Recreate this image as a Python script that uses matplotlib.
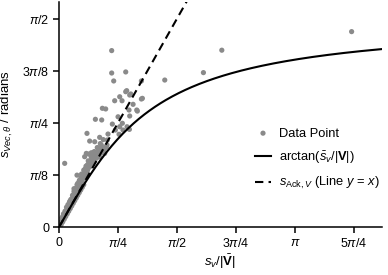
import numpy as np
import matplotlib
matplotlib.use("Agg")
import matplotlib.pyplot as plt

plt.rcParams['font.family'] = ['Liberation Sans', 'DejaVu Sans']
plt.rcParams['mathtext.fontset'] = 'custom'
plt.rcParams['mathtext.rm'] = 'Liberation Sans'
plt.rcParams['mathtext.it'] = 'Liberation Sans:italic'
plt.rcParams['mathtext.bf'] = 'Liberation Sans:bold'

# Data points
pts_x = [0.02, 0.03, 0.04, 0.05, 0.06, 0.07, 0.08, 0.09, 0.10, 0.11, 0.12, 0.13, 0.14, 0.15,
         0.16, 0.17, 0.18, 0.19, 0.20, 0.21, 0.22, 0.23, 0.24, 0.25, 0.26, 0.27, 0.28, 0.29,
         0.30, 0.31, 0.32, 0.33, 0.34, 0.35, 0.36, 0.37, 0.38, 0.39, 0.40, 0.41, 0.42, 0.43,
         0.44, 0.45, 0.46, 0.47, 0.48, 0.50, 0.52, 0.54, 0.55, 0.57, 0.58, 0.60, 0.62, 0.64,
         0.05, 0.10, 0.15, 0.20, 0.25, 0.30, 0.18, 0.28, 0.35, 0.40, 0.12, 0.22, 0.32, 0.38,
         0.01, 0.03, 0.05, 0.07, 0.09, 0.11, 0.13, 0.15, 0.17, 0.19, 0.21, 0.23, 0.25, 0.27,
         0.29, 0.31, 0.33,
         0.04, 0.06, 0.08, 0.10, 0.12, 0.14, 0.16, 0.18, 0.20, 0.22, 0.24, 0.26, 0.28, 0.30,
         0.32, 0.34, 0.36, 0.38, 0.40, 0.42, 0.44, 0.46, 0.48, 0.50, 0.53, 0.56,
         0.20, 0.24, 0.27, 0.30, 0.33, 0.36, 0.39, 0.43, 0.47, 0.51, 0.55, 0.59,
         0.076, 0.24, 0.342, 0.396, 0.364, 0.431, 0.453, 0.542, 0.609, 0.409, 0.476, 0.564,
         0.631, 0.542, 0.644, 0.373, 0.653, 0.80, 0.751, 0.853, 0.809, 0.907, 0.711, 0.844,
         0.485, 0.569, 0.787, 0.942, 0.578, 0.622, 0.933, 1.044, 0.987, 1.111, 0.742, 0.84,
         0.809, 0.889, 0.942, 0.956, 1.098, 0.902, 1.036, 0.938, 0.729, 1.098, 0.702, 0.702,
         0.889, 1.409, 1.924, 2.169, 3.898]
pts_y = [0.02, 0.04, 0.05, 0.05, 0.07, 0.08, 0.09, 0.11, 0.11, 0.13, 0.13, 0.15, 0.16, 0.17,
         0.19, 0.19, 0.21, 0.22, 0.22, 0.24, 0.26, 0.26, 0.28, 0.29, 0.29, 0.31, 0.33, 0.32,
         0.35, 0.35, 0.37, 0.38, 0.38, 0.40, 0.41, 0.42, 0.43, 0.45, 0.45, 0.47, 0.46, 0.49,
         0.48, 0.50, 0.51, 0.50, 0.53, 0.52, 0.55, 0.53, 0.57, 0.56, 0.59, 0.58, 0.60, 0.62,
         0.08, 0.15, 0.20, 0.27, 0.33, 0.38, 0.24, 0.36, 0.44, 0.49, 0.16, 0.29, 0.40, 0.47,
         0.00, 0.02, 0.04, 0.06, 0.08, 0.10, 0.12, 0.14, 0.16, 0.18, 0.20, 0.22, 0.24, 0.26,
         0.28, 0.30, 0.32,
         0.07, 0.10, 0.12, 0.13, 0.17, 0.19, 0.21, 0.22, 0.25, 0.27, 0.30, 0.32, 0.34, 0.36,
         0.39, 0.41, 0.43, 0.45, 0.47, 0.50, 0.52, 0.53, 0.55, 0.56, 0.58, 0.61,
         0.29, 0.32, 0.35, 0.40, 0.43, 0.46, 0.50, 0.53, 0.57, 0.60, 0.63, 0.66,
         0.481, 0.392, 0.531, 0.551, 0.556, 0.561, 0.531, 0.568, 0.556, 0.649, 0.644, 0.619,
         0.606, 0.677, 0.657, 0.707, 0.702, 0.70, 0.732, 0.732, 0.757, 0.757, 0.777, 0.783,
         0.813, 0.808, 0.832, 0.838, 0.896, 0.891, 0.883, 0.875, 0.926, 0.971, 0.953, 0.953,
         0.983, 1.021, 0.996, 1.004, 0.966, 1.029, 0.883, 0.737, 1.102, 1.102, 1.331, 1.162,
         1.170, 1.109, 1.165, 1.334, 1.474]

x_max = 4.30
y_max = 1.70

xtick_vals = [0, np.pi/4, np.pi/2, 3*np.pi/4, np.pi, 5*np.pi/4]
xtick_labels = ['0', r'$\pi$/4', r'$\pi$/2', r'3$\pi$/4', r'$\pi$', r'5$\pi$/4']
ytick_vals = [0, np.pi/8, np.pi/4, 3*np.pi/8, np.pi/2]
ytick_labels = ['0', r'$\pi$/8', r'$\pi$/4', r'3$\pi$/8', r'$\pi$/2']

fig = plt.figure(figsize=(3.88, 2.75), dpi=100)
ax = fig.add_axes([0.152, 0.174, 0.832, 0.82])

ax.scatter(pts_x, pts_y, s=14, color='#8a8a8a', edgecolors='none', zorder=2,
           label='Data Point')
xc = np.linspace(0, x_max, 300)
ax.plot(xc, np.arctan(xc), color='black', lw=1.5, zorder=3,
        label=r'arctan($\bar{s}_v$/|$\mathbf{V}$|)')
xl = np.array([0, y_max])
ax.plot(xl, xl, color='black', lw=1.5, ls=(0, (4, 2.5)), zorder=3,
        label=r'$s_{\mathrm{Ack},V}$ (Line $y$ = $x$)')

ax.set_xlim(0, x_max)
ax.set_ylim(0, y_max)
ax.set_xticks(xtick_vals)
ax.set_xticklabels(xtick_labels)
ax.set_yticks(ytick_vals)
ax.set_yticklabels(ytick_labels)
for s in ['top', 'right']:
    ax.spines[s].set_visible(False)
for s in ['left', 'bottom']:
    ax.spines[s].set_linewidth(1.1)
ax.tick_params(axis='both', direction='out', length=4, width=1.1, labelsize=9, pad=3)

ax.set_xlabel(r'$s_v$/|$\bar{\mathbf{V}}$|', fontsize=9.5, labelpad=2)
ax.set_ylabel(r'$s_{Vec,\theta}$ / radians', fontsize=9.5, labelpad=5)

ax.legend(loc='center left', bbox_to_anchor=(0.57, 0.30), frameon=False, fontsize=9.3,
          handlelength=1.3, handletextpad=0.6, labelspacing=0.75, markerscale=1.0,
          borderaxespad=0.5, borderpad=0.4)

fig.savefig('out.png', dpi=100)
